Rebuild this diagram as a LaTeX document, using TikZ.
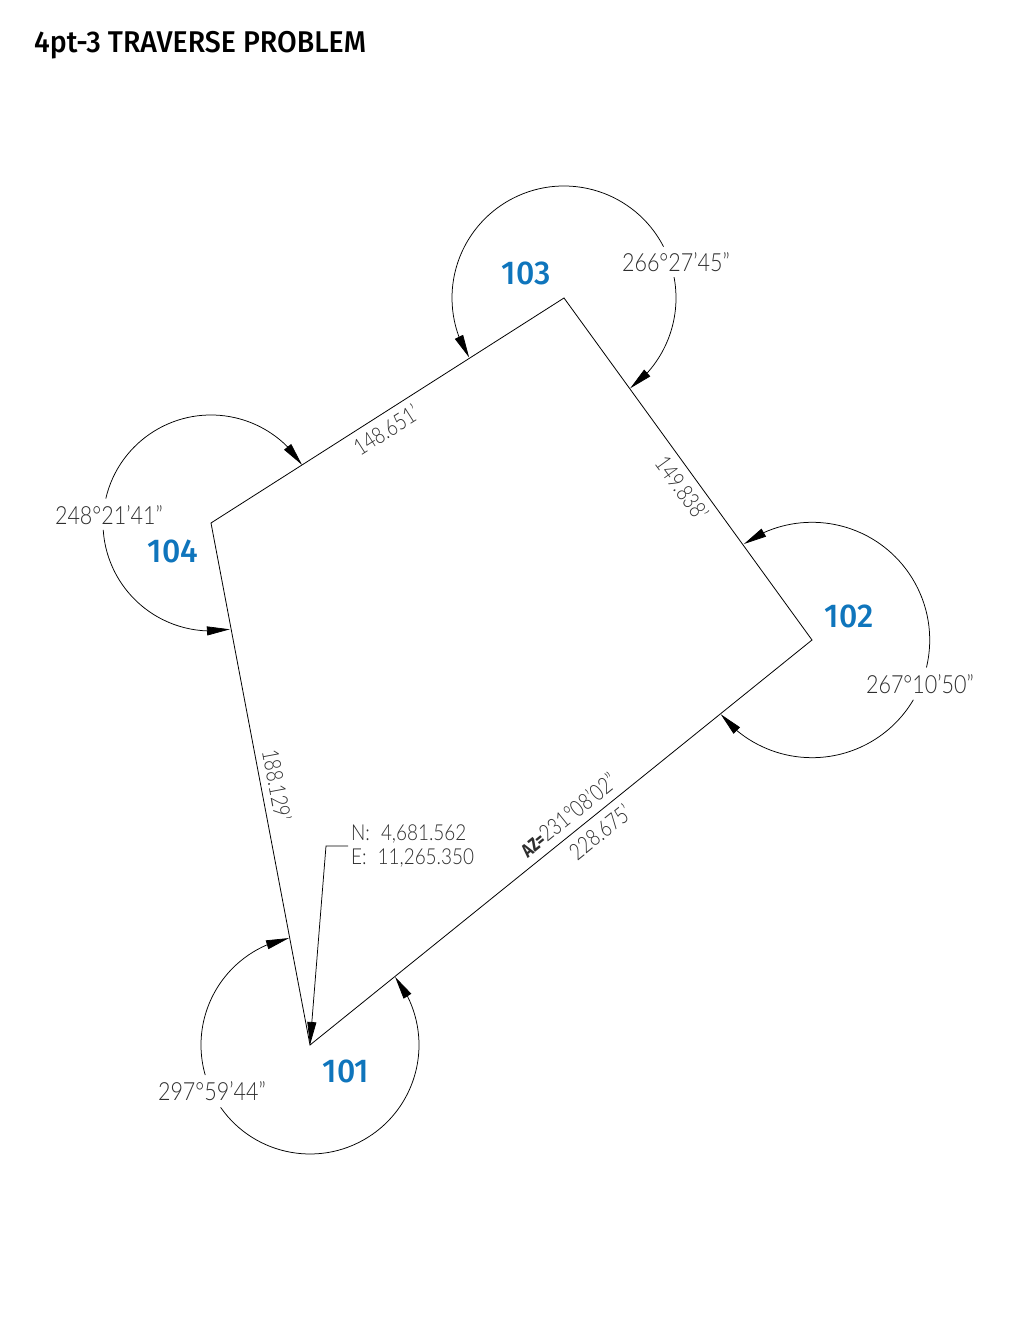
\documentclass[tikz,border=0pt]{standalone}
\usepackage{fontspec}
\usetikzlibrary{arrows.meta,bending}
\newfontfamily\dimfont[FakeStretch=0.86]{Lato Light}
\newfontfamily\distfont[FakeStretch=0.8]{Lato Light}
\newfontfamily\azfont[FakeStretch=0.8]{Fira Sans}
\newfontfamily\ptfont[FakeStretch=0.97]{Fira Sans Medium}
\newfontfamily\ttfont[FakeStretch=0.95]{Fira Sans Medium}
\definecolor{ptblue}{HTML}{0F75BC}
\definecolor{dimgray}{HTML}{2E2E2E}
\tikzset{
  x=1pt,y=1pt,
  edge/.style={line width=0.8pt,black},
  dimarc/.style={line width=0.75pt,black,-{Triangle[length=23pt,width=9pt,flex=1]}},
  dimtext/.style={inner sep=0pt,text=dimgray,font=\dimfont\fontsize{25}{25}\selectfont},
  disttext/.style={inner sep=0pt,text=dimgray,font=\distfont\fontsize{23}{23}\selectfont},
  coordtext/.style={inner sep=0pt,anchor=base west,text=dimgray,font=\dimfont\fontsize{22}{22}\selectfont},
  ptlabel/.style={inner sep=0pt,text=ptblue,font=\ptfont\fontsize{33}{33}\selectfont},
  titletext/.style={inner sep=0pt,anchor=base west,text=black,font=\ttfont\fontsize{30}{30}\selectfont},
}
\begin{document}
\begin{tikzpicture}
\useasboundingbox (0,0) rectangle (1020,1320);
\coordinate (p101) at (310,275);
\coordinate (p102) at (812,680);
\coordinate (p103) at (564,1022);
\coordinate (p104) at (211,797);
\coordinate (elbow) at (326,474);
\coordinate (elbowend) at (348,474);

\node[titletext] (title) at (34,1267) {4pt-3 TRAVERSE PROBLEM};

\draw[edge] (p101) -- (p102) -- (p103) -- (p104) -- cycle;

% angle arcs
\draw[dimarc] (p101) ++(196:109) arc (196:101.1:109);
\draw[dimarc] (p101) ++(214.9:109) arc (214.9:398.7:109);
\draw[dimarc] (p102) ++(-13.5:117.7) arc (-13.5:125.4:117.7);
\draw[dimarc] (p102) ++(-30.5:117.7) arc (-30.5:-140.9:117.7);
\draw[dimarc] (p103) ++(27.3:112) arc (27.3:212.1:112);
\draw[dimarc] (p103) ++(10.7:112) arc (10.7:-53.8:112);
\draw[dimarc] (p104) ++(166.9:108) arc (166.9:32.6:108);
\draw[dimarc] (p104) ++(183.7:108) arc (183.7:280.1:108);

% leader
\draw[line width=0.75pt,black,-{Triangle[length=23pt,width=9pt]}] (elbowend) -- (elbow) -- (p101);
\node[coordtext] (north) at (351,479) {N:\hspace{11pt}4,681.562};
\node[coordtext] (east) at (351,455) {E:\hspace{11pt}11,265.350};

% point labels
\node[ptlabel] (l101) at (346,249) {101};
\node[ptlabel] (l102) at (849,704) {102};
\node[ptlabel] (l103) at (526,1047) {103};
\node[ptlabel] (l104) at (173,769) {104};

% angles
\node[dimtext] (a101) at (212,229) {297°59’44”};
\node[dimtext] (a102) at (920,636) {267°10’50”};
\node[dimtext] (a103) at (676,1058) {266°27’45”};
\node[dimtext] (a104) at (109,805) {248°21’41”};

% distances
\node[disttext,rotate=32.5] (d1) at (386,890) {148.651’};
\node[disttext,rotate=-54] (d2) at (682,832) {149.838’};
\node[disttext,rotate=-79.3] (d3) at (277,535) {188.129’};
\node[disttext,rotate=38.9] (d4) at (600,488) {228.675’};
\node[disttext,rotate=38.9] (az) at (568,505) {{\azfont\bfseries\fontsize{19}{19}\selectfont AZ=}231°08’02”};
\end{tikzpicture}
\end{document}
